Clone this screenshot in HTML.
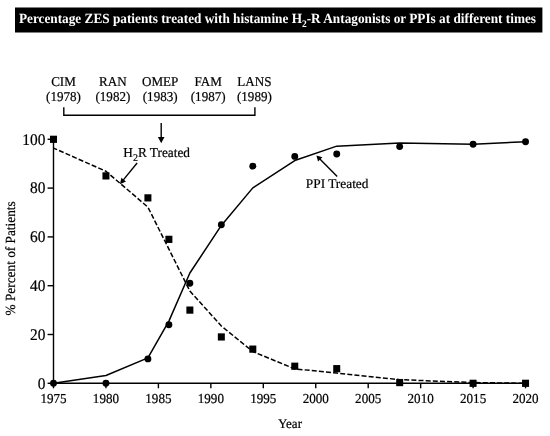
<!DOCTYPE html>
<html><head><meta charset="utf-8"><style>
html,body{margin:0;padding:0;background:#fff;}
body{width:550px;height:436px;overflow:hidden;position:relative;}
svg{position:absolute;left:0;top:0;}
text{text-rendering:geometricPrecision;font-family:"Liberation Serif","Times New Roman",serif;fill:#000;stroke:#000;stroke-width:0.2px;}
.tt{font-size:14px;font-weight:bold;fill:#fff;stroke:none;}
</style></head><body>
<svg width="550" height="436" viewBox="0 0 550 436">
<rect x="15" y="7.5" width="527.4" height="25" fill="#000"/>
<text transform="translate(18.9 22.6) scale(0.947 1)" x="0" y="0" class="tt">Percentage ZES patients treated with histamine H<tspan dy="4.3" font-size="10">2</tspan><tspan dy="-4.3">-R Antagonists or PPIs at different times</tspan></text>
<text transform="translate(63.5 85.8) scale(1.0 1.03)" text-anchor="middle" font-size="13.1">CIM</text>
<text transform="translate(63.5 100.8) scale(1.0 1.03)" text-anchor="middle" font-size="13.1">(1978)</text>
<text transform="translate(112.9 85.8) scale(1.0 1.03)" text-anchor="middle" font-size="13.1">RAN</text>
<text transform="translate(112.9 100.8) scale(1.0 1.03)" text-anchor="middle" font-size="13.1">(1982)</text>
<text transform="translate(160.2 85.8) scale(1.0 1.03)" text-anchor="middle" font-size="13.1">OMEP</text>
<text transform="translate(160.2 100.8) scale(1.0 1.03)" text-anchor="middle" font-size="13.1">(1983)</text>
<text transform="translate(208.2 85.8) scale(1.0 1.03)" text-anchor="middle" font-size="13.1">FAM</text>
<text transform="translate(208.2 100.8) scale(1.0 1.03)" text-anchor="middle" font-size="13.1">(1987)</text>
<text transform="translate(254.4 85.8) scale(1.0 1.03)" text-anchor="middle" font-size="13.1">LANS</text>
<text transform="translate(254.4 100.8) scale(1.0 1.03)" text-anchor="middle" font-size="13.1">(1989)</text>
<path d="M63.8 107.3V115.3H254.9V107.3" fill="none" stroke="#000" stroke-width="1.4"/>
<path d="M161.2 122.9L161.2 137.4" stroke="#000" stroke-width="1.4"/><path d="M161.2 143.3L157.9 136.9L164.5 136.9Z"/>
<text transform="translate(123.3 156.5) scale(1.0 1.03)" font-size="13.3">H<tspan dy="4.8" font-size="10">2</tspan><tspan dy="-4.8">R Treated</tspan></text>
<path d="M137.1 163L123.37 179.93" stroke="#000" stroke-width="1.4"/><path d="M119.9 184.2L121.35 177.65L126.01 181.43Z"/>
<text transform="translate(305.8 188.1) scale(1.0 1.0)" font-size="13.35">PPI Treated</text>
<path d="M337.2 176.5L319.86 159.07" stroke="#000" stroke-width="1.4"/><path d="M316.4 155.6L322.37 157.28L318.05 161.58Z"/>
<text transform="translate(290 428) scale(1.0 1.03)" text-anchor="middle" font-size="13">Year</text>
<text transform="translate(14.6 258.4) rotate(-90) scale(1 1.05)" text-anchor="middle" font-size="13.3">% Percent of Patients</text>
<path d="M53.5 139.3V383.3H525.55" fill="none" stroke="#000" stroke-width="1.4"/>
<path d="M47.6 383.3H53.5" stroke="#000" stroke-width="1.4"/>
<text transform="translate(45.4 388.6) scale(1.0 1.06)" text-anchor="end" font-size="15.4">0</text>
<path d="M47.6 334.5H53.5" stroke="#000" stroke-width="1.4"/>
<text transform="translate(45.4 339.8) scale(1.0 1.06)" text-anchor="end" font-size="15.4">20</text>
<path d="M47.6 285.7H53.5" stroke="#000" stroke-width="1.4"/>
<text transform="translate(45.4 291) scale(1.0 1.06)" text-anchor="end" font-size="15.4">40</text>
<path d="M47.6 236.9H53.5" stroke="#000" stroke-width="1.4"/>
<text transform="translate(45.4 242.2) scale(1.0 1.06)" text-anchor="end" font-size="15.4">60</text>
<path d="M47.6 188.1H53.5" stroke="#000" stroke-width="1.4"/>
<text transform="translate(45.4 193.4) scale(1.0 1.06)" text-anchor="end" font-size="15.4">80</text>
<path d="M47.6 139.3H53.5" stroke="#000" stroke-width="1.4"/>
<text transform="translate(45.4 144.6) scale(1.0 1.06)" text-anchor="end" font-size="15.4">100</text>
<path d="M53.5 383.3V388.3" stroke="#000" stroke-width="1.4"/>
<text transform="translate(53.5 403.1) scale(1.0 1.05)" text-anchor="middle" font-size="13.1">1975</text>
<path d="M105.95 383.3V388.3" stroke="#000" stroke-width="1.4"/>
<text transform="translate(105.95 403.1) scale(1.0 1.05)" text-anchor="middle" font-size="13.1">1980</text>
<path d="M158.4 383.3V388.3" stroke="#000" stroke-width="1.4"/>
<text transform="translate(158.4 403.1) scale(1.0 1.05)" text-anchor="middle" font-size="13.1">1985</text>
<path d="M210.85 383.3V388.3" stroke="#000" stroke-width="1.4"/>
<text transform="translate(210.85 403.1) scale(1.0 1.05)" text-anchor="middle" font-size="13.1">1990</text>
<path d="M263.3 383.3V388.3" stroke="#000" stroke-width="1.4"/>
<text transform="translate(263.3 403.1) scale(1.0 1.05)" text-anchor="middle" font-size="13.1">1995</text>
<path d="M315.75 383.3V388.3" stroke="#000" stroke-width="1.4"/>
<text transform="translate(315.75 403.1) scale(1.0 1.05)" text-anchor="middle" font-size="13.1">2000</text>
<path d="M368.2 383.3V388.3" stroke="#000" stroke-width="1.4"/>
<text transform="translate(368.2 403.1) scale(1.0 1.05)" text-anchor="middle" font-size="13.1">2005</text>
<path d="M420.65 383.3V388.3" stroke="#000" stroke-width="1.4"/>
<text transform="translate(420.65 403.1) scale(1.0 1.05)" text-anchor="middle" font-size="13.1">2010</text>
<path d="M473.1 383.3V388.3" stroke="#000" stroke-width="1.4"/>
<text transform="translate(473.1 403.1) scale(1.0 1.05)" text-anchor="middle" font-size="13.1">2015</text>
<path d="M525.55 383.3V388.3" stroke="#000" stroke-width="1.4"/>
<text transform="translate(525.55 403.1) scale(1.0 1.05)" text-anchor="middle" font-size="13.1">2020</text>
<polyline fill="none" stroke="#000" stroke-width="1.5" stroke-linejoin="round" points="53.5,383.3 105.95,375.49 147.91,357.92 168.89,321.08 189.87,273.01 221.34,225.43 252.81,187.86 294.77,160.53 336.73,146.13 399.67,142.96 473.1,144.18 525.55,141.74"/>
<polyline fill="none" stroke="#000" stroke-width="1.5" stroke-dasharray="5 2.15" stroke-dashoffset="1.1" stroke-linejoin="round" points="53.5,148.08 105.95,171.26 147.91,207.13 189.87,291.07 221.34,325.96 252.81,351.58 294.77,368.9 336.73,373.05 399.67,379.64 473.1,382.57 525.55,383.3"/>
<rect x="50" y="135.7" width="7" height="7.2"/>
<rect x="102.45" y="172.3" width="7" height="7.2"/>
<rect x="144.41" y="194.26" width="7" height="7.2"/>
<rect x="165.39" y="235.74" width="7" height="7.2"/>
<rect x="186.37" y="306.5" width="7" height="7.2"/>
<rect x="217.84" y="333.34" width="7" height="7.2"/>
<rect x="249.31" y="345.54" width="7" height="7.2"/>
<rect x="291.27" y="362.62" width="7" height="7.2"/>
<rect x="333.23" y="365.06" width="7" height="7.2"/>
<rect x="396.17" y="378.97" width="7" height="7.2"/>
<rect x="469.6" y="379.7" width="7" height="7.2"/>
<rect x="522.05" y="379.7" width="7" height="7.2"/>
<circle cx="53.5" cy="383.3" r="3.45"/>
<circle cx="105.95" cy="383.3" r="3.45"/>
<circle cx="147.91" cy="358.9" r="3.45"/>
<circle cx="168.89" cy="324.74" r="3.45"/>
<circle cx="189.87" cy="283.26" r="3.45"/>
<circle cx="221.34" cy="224.7" r="3.45"/>
<circle cx="252.81" cy="166.14" r="3.45"/>
<circle cx="294.77" cy="156.38" r="3.45"/>
<circle cx="336.73" cy="153.94" r="3.45"/>
<circle cx="399.67" cy="146.62" r="3.45"/>
<circle cx="473.1" cy="144.18" r="3.45"/>
<circle cx="525.55" cy="141.74" r="3.45"/>
</svg>
</body></html>
